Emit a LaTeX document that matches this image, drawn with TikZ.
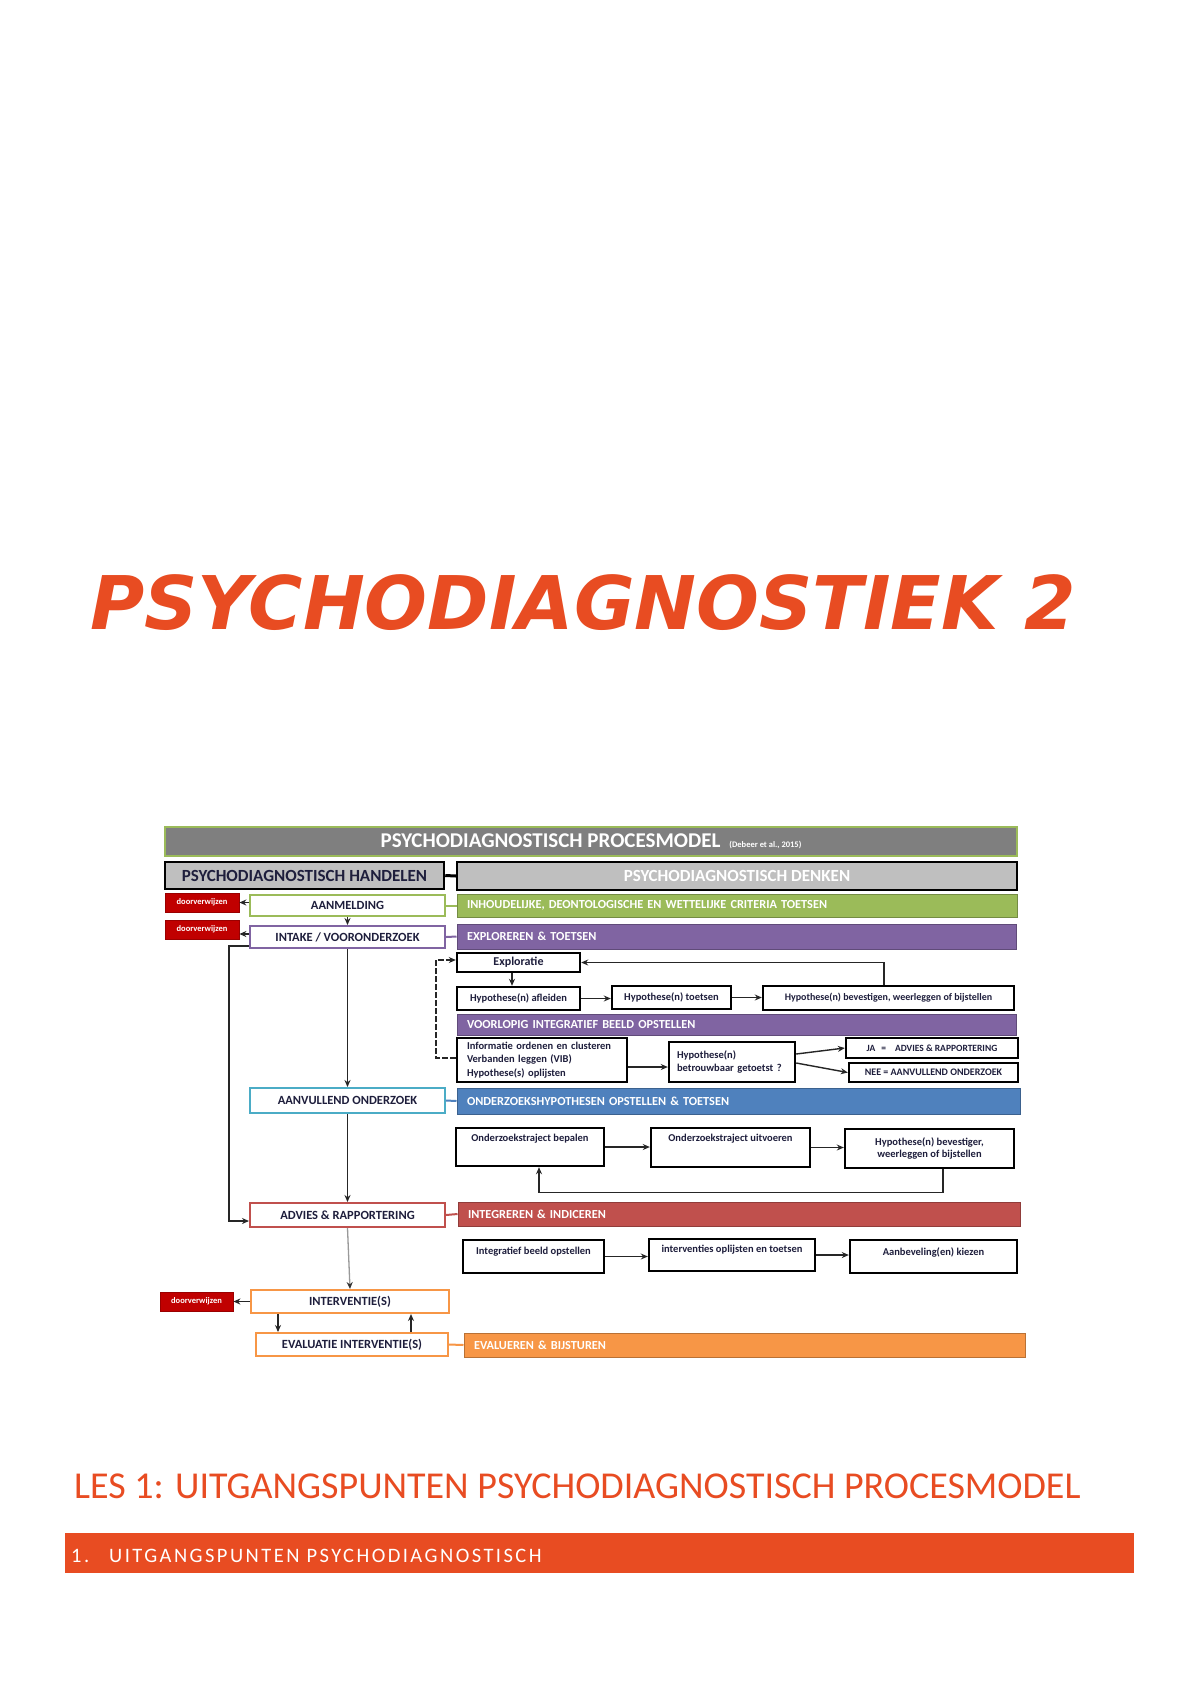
\documentclass[tikz,border=0pt]{standalone}
\usepackage{fontspec}
\setmainfont{Carlito}
\newfontfamily\verd{DejaVu Sans}
\usetikzlibrary{arrows.meta,calc}
\definecolor{ttl}{HTML}{E84C22}
\definecolor{tgray}{HTML}{7F7F7F}
\definecolor{lgray}{HTML}{BFBFBF}
\definecolor{cgreen}{HTML}{9BBB59}
\definecolor{cpurple}{HTML}{8064A2}
\definecolor{cblue}{HTML}{4F81BD}
\definecolor{caqua}{HTML}{4BACC6}
\definecolor{cred}{HTML}{C0504D}
\definecolor{corange}{HTML}{F79646}
\definecolor{dred}{HTML}{C00000}
\definecolor{txtc}{HTML}{1E1E3C}
\tikzset{
  bx/.style={draw=#1, line width=2pt, fill=white, inner sep=0pt, text=txtc,
    font=\bfseries\fontsize{12.5}{14}\selectfont},
  sb/.style={draw=black, line width=2.4pt, fill=white, inner sep=0pt, text=txtc,
    font=\bfseries\fontsize{10.5}{13}\selectfont},
  stxt/.style={inner sep=0pt, text=txtc, font=\bfseries\fontsize{10.5}{13}\selectfont},
  bar/.style={draw=#1!75!black, line width=1pt, fill=#1, inner xsep=10pt, inner ysep=0pt,
    align=left, text=white, font=\bfseries\fontsize{12.3}{14}\selectfont},
  door/.style={fill=dred, draw=dred!80!black, line width=0.8pt, inner sep=0pt,
    minimum width=74pt, minimum height=19pt, text=white,
    font=\bfseries\fontsize{8.5}{10}\selectfont},
  arr/.style={-{Stealth[length=7pt,width=6pt]}, line width=1.4pt, draw=black!85},
  link/.style={line width=2pt, draw=#1},
  dsh/.style={-{Stealth[length=7pt,width=6pt]}, line width=1.4pt, draw=black!85,
    dash pattern=on 6pt off 2pt},
}
\begin{document}
\begin{tikzpicture}[x=1pt,y=-1pt]
\useasboundingbox (0,0) rectangle (1200,1698);
\fill[white] (0,0) rectangle (1200,1698);

% main title
\node[anchor=base west, inner sep=0pt, text=ttl,
  font=\verd\bfseries\itshape\fontsize{74}{80}\selectfont] (maintitle) at (90,629) {PSYCHODIAGNOSTIEK 2};

% ---------- diagram header ----------
\node[fill=tgray, draw=cgreen, line width=1.2pt, minimum width=852pt, minimum height=29pt,
  inner sep=0pt, text=white] (tb) at (591,841.5)
  {{\bfseries\fontsize{21}{24}\selectfont PSYCHODIAGNOSTISCH PROCESMODEL}\hspace{9pt}{\bfseries\fontsize{8.5}{10}\selectfont (Debeer et al., 2015)}};
\node[fill=lgray, draw=black, line width=2.5pt, minimum width=279pt, minimum height=27pt,
  inner sep=0pt, text=txtc, font=\bfseries\fontsize{17}{20}\selectfont] (hand) at (304.5,875.5) {PSYCHODIAGNOSTISCH HANDELEN};
\node[fill=lgray, draw=black, line width=2pt, minimum width=560pt, minimum height=28pt,
  inner sep=0pt, text=white, font=\bfseries\fontsize{17}{20}\selectfont] (denk) at (737,876) {PSYCHODIAGNOSTISCH DENKEN};
\draw[line width=3pt] (hand.east) -- (denk.west);

% ---------- left column ----------
\node[bx=cgreen, minimum width=195pt, minimum height=21pt] (aanm) at (347.5,905.5) {AANMELDING};
\node[bx=cpurple, minimum width=195pt, minimum height=22pt] (intake) at (347.5,937) {INTAKE / VOORONDERZOEK};
\node[door] (door1) at (202,902.5) {doorverwijzen};
\node[door] (door2) at (202,929.5) {doorverwijzen};
\node[bx=caqua, minimum width=195pt, minimum height=25pt] (aanv) at (347.5,1100.5) {AANVULLEND ONDERZOEK};
\node[bx=cred, minimum width=195pt, minimum height=24pt] (adv) at (347.5,1215) {ADVIES \& RAPPORTERING};
\node[bx=corange, minimum width=198pt, minimum height=23pt] (intv) at (350,1301.5) {INTERVENTIE(S)};
\node[door, minimum width=73pt] (door3) at (196.5,1301.5) {doorverwijzen};
\node[bx=corange, minimum width=192pt, minimum height=23pt] (eval) at (352,1344.5) {EVALUATIE INTERVENTIE(S)};

% ---------- bars ----------
\node[bar=cgreen, minimum width=560pt, minimum height=23pt, text width=540pt] (gb) at (737,905.5)
  {INHOUDELIJKE, DEONTOLOGISCHE EN WETTELIJKE CRITERIA TOETSEN};
\node[bar=cpurple, minimum width=559pt, minimum height=25pt, text width=539pt] (pb1) at (736.5,936.5)
  {EXPLOREREN \& TOETSEN};
\node[bar=cpurple, minimum width=559pt, minimum height=21pt, text width=539pt] (pb2) at (736.5,1024.5)
  {VOORLOPIG INTEGRATIEF BEELD OPSTELLEN};
\node[bar=cblue, minimum width=563pt, minimum height=26pt, text width=543pt] (bb) at (738.5,1101)
  {ONDERZOEKSHYPOTHESEN OPSTELLEN \& TOETSEN};
\node[bar=cred, minimum width=562pt, minimum height=24pt, text width=542pt] (rb) at (739,1214)
  {INTEGREREN \& INDICEREN};
\node[bar=corange, minimum width=561pt, minimum height=24pt, text width=541pt] (ob) at (744.5,1345)
  {EVALUEREN \& BIJSTUREN};

% links box -> bar
\draw[link=cgreen] (aanm.east) -- (gb.west);
\draw[link=cpurple] (intake.east) -- (pb1.west);
\draw[link=cblue] (aanv.east) -- (bb.west);
\draw[link=cred] (adv.east) -- (rb.west);
\draw[link=corange] (eval.east) -- (ob.west);

% ---------- exploreren block ----------
\node[sb, minimum width=123pt, minimum height=19pt, font=\bfseries\fontsize{12}{14}\selectfont] (explo) at (518.5,962.5) {Exploratie};
\node[sb, minimum width=123pt, minimum height=23pt] (hafl) at (518.5,998.5) {Hypothese(n) afleiden};
\node[sb, minimum width=119pt, minimum height=23pt] (htoets) at (671.5,997.5) {Hypothese(n) toetsen};
\node[sb, minimum width=251pt, minimum height=24pt, font=\bfseries\fontsize{10}{12}\selectfont] (hbev) at (888.5,998) {Hypothese(n) bevestigen, weerleggen of bijstellen};

\node[sb, minimum width=170pt, minimum height=44pt, text width=150pt, inner xsep=10pt, align=left,
  font=\bfseries\fontsize{10.5}{13.5}\selectfont] (info) at (542,1060)
  {Informatie ordenen en clusteren\\Verbanden leggen (VIB)\\Hypothese(s) oplijsten};
\node[sb, minimum width=126pt, minimum height=40pt, text width=110pt, inner xsep=8pt, align=left,
  font=\bfseries\fontsize{10.5}{12.5}\selectfont] (hbetr) at (732,1062)
  {Hypothese(n)\\betrouwbaar getoetst ?\\[2pt]};
\node[sb, minimum width=172pt, minimum height=20pt, font=\bfseries\fontsize{9.5}{11}\selectfont] (ja) at (932,1048) {JA\hspace{6pt}=\hspace{9pt}ADVIES \& RAPPORTERING};
\node[sb, minimum width=169pt, minimum height=19pt, font=\bfseries\fontsize{10}{11}\selectfont] (nee) at (933.5,1072.5) {NEE = AANVULLEND ONDERZOEK};

% ---------- onderzoek block ----------
\node[sb, minimum width=148pt, minimum height=38pt,
  label={[stxt,anchor=north,yshift=-7pt]north:Onderzoekstraject bepalen}] (obep) at (530,1147) {};
\node[sb, minimum width=159pt, minimum height=39pt,
  label={[stxt,anchor=north,yshift=-7pt]north:Onderzoekstraject uitvoeren}] (ouit) at (730.5,1147.5) {};
\node[sb, minimum width=169pt, minimum height=39pt, align=center,
  font=\bfseries\fontsize{10.5}{12.5}\selectfont] (obev) at (929.5,1148.5)
  {Hypothese(n) bevestiger,\\weerleggen of bijstellen};

% ---------- integreren block ----------
\node[sb, minimum width=141pt, minimum height=33pt,
  label={[stxt,anchor=north,yshift=-8pt]north:Integratief beeld opstellen}] (integ) at (533.5,1256.5) {};
\node[sb, minimum width=166pt, minimum height=32pt,
  label={[stxt,anchor=north,yshift=-7pt]north:interventies oplijsten en toetsen}] (interv) at (732,1255) {};
\node[sb, minimum width=167pt, minimum height=33pt,
  label={[stxt,anchor=north,yshift=-9pt]north:Aanbeveling(en) kiezen}] (aanb) at (933.5,1256.5) {};

% ---------- connectors ----------
\draw[arr] (aanm.west |- door1.east) -- (door1.east);
\draw[arr] ([yshift=3pt]intake.west) -- ([yshift=3pt]intake.west -| door2.east);
\draw[arr] (aanm.south) -- (intake.north);
\draw[arr] (intake.south) -- (aanv.north);
\draw[arr] (aanv.south) -- (adv.north);
\draw[line width=1.3pt, draw=black!40, -{Stealth[length=7pt,width=6pt,color=black!80]}] (adv.south) -- (intv.north);
\draw[arr] ([yshift=3pt]intake.south west) -- ++(-20,0) |- ([yshift=-6pt]adv.west);
\draw[arr] (intv.west) -- (door3.east);
\draw[arr] ([xshift=-72pt]intv.south) -- ([xshift=-74pt]eval.north);
\draw[arr] ([xshift=59pt]eval.north) -- ([xshift=61pt]intv.south);

\draw[arr] ([xshift=-6.5pt]explo.south) -- ([xshift=-6.5pt]hafl.north);
\draw[arr] (hafl.east) -- (hafl.east -| htoets.west);
\draw[arr] (htoets.east) -- (htoets.east -| hbev.west);
\draw[arr] ([xshift=-4.5pt]hbev.north) |- (explo.east);
\coordinate (d1) at ([yshift=2pt]info.west);
\draw[dsh] (d1) -- ++(-20,0) |- ([yshift=2.5pt]explo.west);
\coordinate (c1) at ([yshift=-7pt]info.east);
\draw[arr] (c1) -- (c1 -| hbetr.west);
\draw[arr] ([yshift=8pt]hbetr.east) -- (ja.west);
\draw[arr] ([yshift=-1pt]hbetr.east) -- (nee.west);

\draw[arr] (obep.east) -- (obep.east -| ouit.west);
\draw[arr] (ouit.east) -- (ouit.east -| obev.west);
\draw[arr] ([xshift=13.5pt]obev.south) -- ++(0,23) -| ([xshift=9pt]obep.south);

\draw[arr] (integ.east) -- (integ.east -| interv.west);
\draw[arr] (interv.east) -- (interv.east -| aanb.west);

% ---------- bottom headings ----------
\node[anchor=base west, inner sep=0pt, text=ttl, font=\fontsize{38}{44}\selectfont] (les) at (74,1498)
  {LES 1: UITGANGSPUNTEN PSYCHODIAGNOSTISCH PROCESMODEL};
\node[fill=ttl, minimum width=1069pt, minimum height=40pt, inner sep=0pt] (hbar) at (599.5,1553) {};
\node[anchor=base west, inner sep=0pt, text=white,
  font=\fontsize{20.5}{24}\selectfont\addfontfeature{LetterSpace=12}] (htext) at (71,1562)
  {1.\hspace{20pt}UITGANGSPUNTEN PSYCHODIAGNOSTISCH};
\end{tikzpicture}
\end{document}
